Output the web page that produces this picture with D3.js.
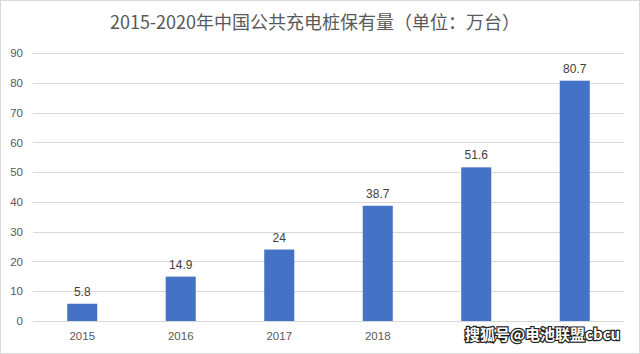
<!DOCTYPE html>
<html>
<head>
<meta charset="utf-8">
<title>public charging piles</title>
<script src="https://cdn.jsdelivr.net/npm/d3@7"></script>
<style>
  body{ margin:0; background:#fff; }
  text{ font-family:"Noto Sans CJK SC","Liberation Sans",sans-serif; }
</style>
</head>
<body>
<div id="container"></div>
<script>
  var years = ["2015","2016","2017","2018","2019","2020"];
  var values = [5.8, 14.9, 24, 38.7, 51.6, 80.7];
  var yTicks = [0,10,20,30,40,50,60,70,80,90];
  var title = "2015-2020年中国公共充电桩保有量（单位：万台）";
  var watermark = "搜狐号@电池联盟cbcu";

  var W = 640, H = 354;
  var margin = {top: 53, right: 16, bottom: 33, left: 33},
      width = W - margin.left - margin.right,
      height = H - margin.top - margin.bottom;

  var svg = d3.select("#container").append("svg")
      .attr("width", W)
      .attr("height", H);

  svg.append("rect")
    .attr("x", 0.5).attr("y", 0.5)
    .attr("width", W - 1).attr("height", H - 1)
    .attr("fill", "#fff")
    .attr("stroke", "#d9d9d9");

  svg.append("text")
    .text(title)
    .attr("x", 315)
    .attr("y", 29)
    .attr("text-anchor", "middle")
    .attr("fill", "#595959")
    .style("font-size", "18px");

  var g = svg.append("g")
    .attr("transform", "translate(" + margin.left + "," + margin.top + ")");

  var x = d3.scaleBand().domain(years).range([0, width]).paddingInner(0.695).paddingOuter(0.3475);
  var y = d3.scaleLinear().domain([0, 90]).range([height, 0]);

  // gridlines
  g.selectAll(".grid").data(yTicks).enter().append("line")
    .attr("class", "grid")
    .attr("x1", 0).attr("x2", width)
    .attr("y1", d => Math.round(y(d)) + 0.5)
    .attr("y2", d => Math.round(y(d)) + 0.5)
    .attr("stroke", "#d9d9d9")
    .attr("stroke-width", 1);

  var yAxis = d3.axisLeft(y).tickValues(yTicks).tickSize(0).tickPadding(10);
  var ya = g.append("g").call(yAxis);
  ya.select(".domain").remove();
  ya.selectAll(".tick text").attr("fill", "#595959").style("font-size", "11.5px")
    .style("font-family", "'Liberation Sans',sans-serif");

  var xAxis = d3.axisBottom(x).tickSize(0).tickPadding(11);
  var xa = g.append("g").attr("transform", "translate(0," + height + ")").call(xAxis);
  xa.select(".domain").remove();
  xa.selectAll(".tick text").attr("fill", "#595959").style("font-size", "11.5px")
    .style("font-family", "'Liberation Sans',sans-serif");

  g.selectAll(".bar").data(values).enter().append("rect")
    .attr("class", "bar")
    .attr("x", (d, i) => x(years[i]))
    .attr("width", x.bandwidth())
    .attr("y", d => y(d))
    .attr("height", d => y(0) - y(d))
    .attr("fill", "#4472c4");

  g.selectAll(".lbl").data(values).enter().append("text")
    .attr("class", "lbl")
    .text(d => d)
    .attr("x", (d, i) => x(years[i]) + x.bandwidth()/2)
    .attr("y", d => y(d) - 8)
    .attr("text-anchor", "middle")
    .attr("fill", "#404040")
    .style("font-size", "12px")
    .style("font-family", "'Liberation Sans',sans-serif");

  // watermark
  svg.append("text")
    .text(watermark)
    .attr("x", 465)
    .attr("y", 340)
    .attr("fill", "#fff")
    .attr("stroke", "#222")
    .attr("stroke-width", 2.4)
    .attr("paint-order", "stroke")
    .style("font-size", "15px")
    .style("font-weight", "bold");
</script>
</body>
</html>
